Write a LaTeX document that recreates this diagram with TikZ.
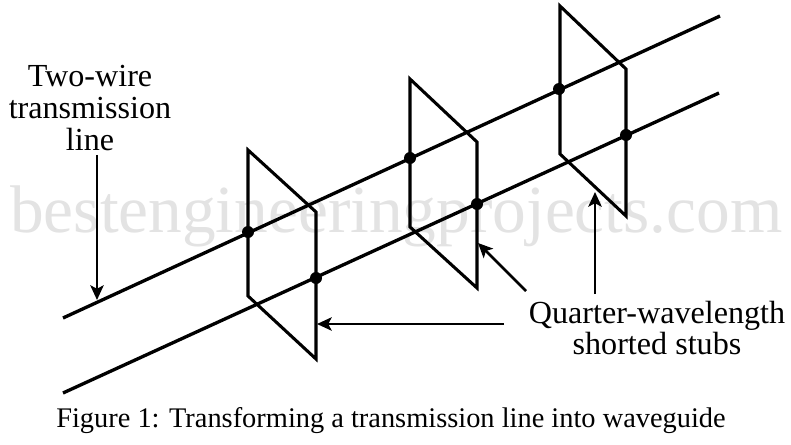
\documentclass[tikz,border=0pt]{standalone}
\usepackage{fontspec}
\setmainfont{Liberation Serif}
\usetikzlibrary{arrows.meta}
\tikzset{
  wire/.style={line width=2.5pt,line cap=butt},
  stub/.style={line width=2.3pt,line join=miter},
  pointer/.style={line width=2pt,-{Stealth[length=11pt,width=10pt,inset=2.6pt]}},
  joint/.style={circle,fill=black,inner sep=0pt,minimum size=9pt},
  lbl/.style={font=\fontsize{24.1}{23.7}\selectfont,align=center,inner sep=0pt},
  mark text/.style={font=\fontsize{50.5}{54}\selectfont,text=black!11,inner sep=0pt,anchor=base west}
}
\begin{document}
\begin{tikzpicture}[x=0.75pt,y=-0.75pt]
\useasboundingbox (0,0) rectangle (791,445);
\fill[white] (0,0) rectangle (791,445);
\node[mark text] (wm) at (10,232) {bestengineeringprojects.com};
% wires
\coordinate (w1a) at (63,318); \coordinate (w1b) at (720,16);
\coordinate (w2a) at (63,393); \coordinate (w2b) at (719,93);
\draw[wire] (w1a) -- (w1b);
\draw[wire] (w2a) -- (w2b);
% stubs
\coordinate (s1a) at (248,150); \coordinate (s1b) at (316,212); \coordinate (s1c) at (316,359); \coordinate (s1d) at (248,296);
\coordinate (s2a) at (410,79);  \coordinate (s2b) at (477,142); \coordinate (s2c) at (477,288); \coordinate (s2d) at (410,227);
\coordinate (s3a) at (560,6);   \coordinate (s3b) at (626,69);  \coordinate (s3c) at (626,216); \coordinate (s3d) at (560,154);
\draw[stub] (s1a) -- (s1b) -- (s1c) -- (s1d) -- cycle;
\draw[stub] (s2a) -- (s2b) -- (s2c) -- (s2d) -- cycle;
\draw[stub] (s3a) -- (s3b) -- (s3c) -- (s3d) -- cycle;
% joints
\node[joint] (j1) at (248,232) {};
\node[joint] (j2) at (316,278) {};
\node[joint] (j3) at (410,158) {};
\node[joint] (j4) at (477,204) {};
\node[joint] (j5) at (559,89) {};
\node[joint] (j6) at (626,135) {};
% labels
\node[lbl] (two) at (90,108) {Two-wire\\transmission\\line};
\node[lbl] (quarter) at (657,328) {Quarter-wavelength\\shorted stubs};
\node[font=\fontsize{21.3}{24}\selectfont,inner sep=0pt] (cap) at (391,421) {Figure 1: Transforming a transmission line into waveguide};
% pointers
\coordinate (p1) at (97,155); \coordinate (t1) at (97,300);
\coordinate (p2) at (504,324); \coordinate (t2) at (317,324);
\coordinate (p3) at (526,291); \coordinate (t3) at (478,243);
\coordinate (p4) at (595,294); \coordinate (t4) at (595,192);
\draw[pointer] (p1) -- (t1);
\draw[pointer] (p2) -- (t2);
\draw[pointer] (p3) -- (t3);
\draw[pointer] (p4) -- (t4);
\end{tikzpicture}
\end{document}
